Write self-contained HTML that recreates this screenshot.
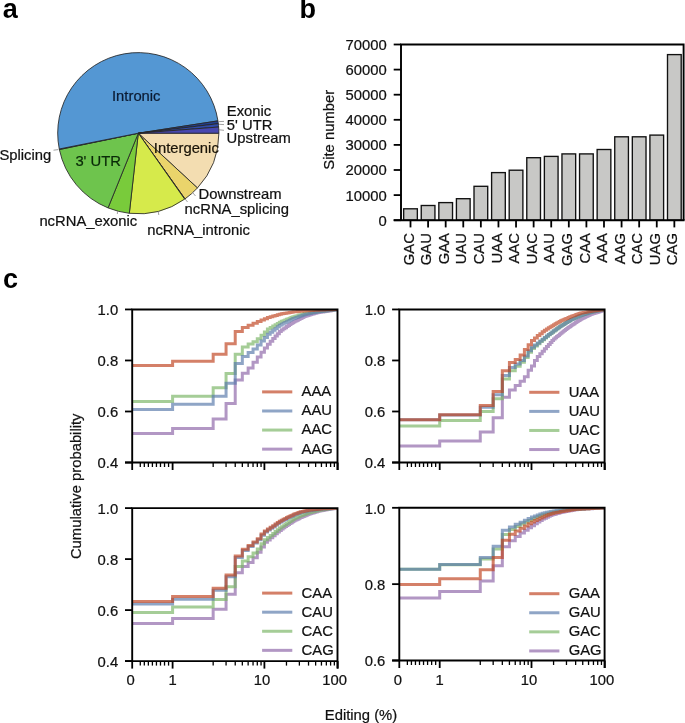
<!DOCTYPE html>
<html><head><meta charset="utf-8"><style>
html,body{margin:0;padding:0;background:#fff;}
body{width:685px;height:723px;overflow:hidden;}
svg{display:block;font-family:"Liberation Sans", sans-serif;will-change:transform;}
</style></head><body>
<svg width="685" height="723" viewBox="0 0 685 723">
<rect width="685" height="723" fill="#fff"/>
<g><path d="M138.30,133.20 L218.90,133.20 A80.6,80.6 0 0 1 197.44,187.96 Z" fill="#f3ddb1" stroke="#262626" stroke-width="0.85" stroke-linejoin="round"/><path d="M138.30,133.20 L197.44,187.96 A80.6,80.6 0 0 1 184.99,198.90 Z" fill="#ead46b" stroke="#262626" stroke-width="0.85" stroke-linejoin="round"/><path d="M138.30,133.20 L184.99,198.90 A80.6,80.6 0 0 1 184.65,199.14 Z" fill="#e2e05a" stroke="#262626" stroke-width="0.85" stroke-linejoin="round"/><path d="M138.30,133.20 L184.65,199.14 A80.6,80.6 0 0 1 129.32,213.30 Z" fill="#d6ea4b" stroke="#262626" stroke-width="0.85" stroke-linejoin="round"/><path d="M138.30,133.20 L129.32,213.30 A80.6,80.6 0 0 1 108.04,207.90 Z" fill="#79cb3b" stroke="#262626" stroke-width="0.85" stroke-linejoin="round"/><path d="M138.30,133.20 L108.04,207.90 A80.6,80.6 0 0 1 59.37,149.54 Z" fill="#6ec44d" stroke="#262626" stroke-width="0.85" stroke-linejoin="round"/><path d="M138.30,133.20 L59.37,149.54 A80.6,80.6 0 0 1 59.26,148.99 Z" fill="#5fb070" stroke="#262626" stroke-width="0.85" stroke-linejoin="round"/><path d="M138.30,133.20 L59.26,148.99 A80.6,80.6 0 1 1 217.95,120.87 Z" fill="#5497d3" stroke="#262626" stroke-width="0.85" stroke-linejoin="round"/><path d="M138.30,133.20 L217.95,120.87 A80.6,80.6 0 0 1 218.33,123.66 Z" fill="#233f8f" stroke="#262626" stroke-width="0.85" stroke-linejoin="round"/><path d="M138.30,133.20 L218.33,123.66 A80.6,80.6 0 0 1 218.66,127.02 Z" fill="#2f4aa8" stroke="#262626" stroke-width="0.85" stroke-linejoin="round"/><path d="M138.30,133.20 L218.66,127.02 A80.6,80.6 0 0 1 218.90,133.20 Z" fill="#4848b0" stroke="#262626" stroke-width="0.85" stroke-linejoin="round"/></g>
<line x1="58.2" y1="149.6" x2="53.5" y2="150.2" stroke="#8a8a8a" stroke-width="0.8"/>
<line x1="219.0" y1="121.6" x2="224.0" y2="121.4" stroke="#8a8a8a" stroke-width="0.8"/>
<line x1="219.0" y1="124.3" x2="224.0" y2="124.6" stroke="#8a8a8a" stroke-width="0.8"/>
<line x1="219.0" y1="129.8" x2="224.0" y2="130.3" stroke="#8a8a8a" stroke-width="0.8"/>
<line x1="192.0" y1="191.8" x2="195.5" y2="196.0" stroke="#8a8a8a" stroke-width="0.8"/>
<line x1="185.0" y1="198.8" x2="187.5" y2="202.0" stroke="#8a8a8a" stroke-width="0.8"/>
<line x1="117.6" y1="211.0" x2="117.3" y2="214.0" stroke="#8a8a8a" stroke-width="0.8"/>
<line x1="158.3" y1="211.8" x2="158.8" y2="215.0" stroke="#8a8a8a" stroke-width="0.8"/>
<text x="112.0" y="100.8" font-size="14.8" text-anchor="start" font-weight="normal" fill="#0b1b33" stroke="#0b1b33" stroke-width="0.22" >Intronic</text>
<text x="75.4" y="166.3" font-size="14.8" text-anchor="start" font-weight="normal" fill="#0a2a08" stroke="#0a2a08" stroke-width="0.22" >3' UTR</text>
<text x="153.8" y="152.9" font-size="14.8" text-anchor="start" font-weight="normal" fill="#1a1408" stroke="#1a1408" stroke-width="0.22" >Intergenic</text>
<text x="226.8" y="115.5" font-size="14.8" text-anchor="start" font-weight="normal" fill="#111" stroke="#111" stroke-width="0.22" >Exonic</text>
<text x="226.8" y="129.6" font-size="14.8" text-anchor="start" font-weight="normal" fill="#111" stroke="#111" stroke-width="0.22" >5' UTR</text>
<text x="226.6" y="142.8" font-size="14.8" text-anchor="start" font-weight="normal" fill="#111" stroke="#111" stroke-width="0.22" >Upstream</text>
<text x="-0.6" y="160.3" font-size="14.8" text-anchor="start" font-weight="normal" fill="#111" stroke="#111" stroke-width="0.22" >Splicing</text>
<text x="198.6" y="199.3" font-size="14.8" text-anchor="start" font-weight="normal" fill="#111" stroke="#111" stroke-width="0.22" >Downstream</text>
<text x="184.6" y="214.2" font-size="14.8" text-anchor="start" font-weight="normal" fill="#111" stroke="#111" stroke-width="0.22" >ncRNA_splicing</text>
<text x="39.4" y="225.5" font-size="14.8" text-anchor="start" font-weight="normal" fill="#111" stroke="#111" stroke-width="0.22" >ncRNA_exonic</text>
<text x="147.2" y="234.5" font-size="14.8" text-anchor="start" font-weight="normal" fill="#111" stroke="#111" stroke-width="0.22" >ncRNA_intronic</text>
<text x="2.8" y="18.4" font-size="27" text-anchor="start" font-weight="bold" fill="#000" >a</text>
<text x="299.4" y="18.4" font-size="27" text-anchor="start" font-weight="bold" fill="#000" >b</text>
<text x="3.0" y="288.2" font-size="27" text-anchor="start" font-weight="bold" fill="#000" >c</text>
<rect x="403.65" y="208.80" width="13.70" height="11.40" fill="#c8c8c6" stroke="#111" stroke-width="1.35"/>
<line x1="410.50" y1="220.2" x2="410.50" y2="227.39999999999998" stroke="#000" stroke-width="1.8"/>
<text x="0" y="0" font-size="14.8" text-anchor="end" font-weight="normal" fill="#111" stroke="#111" stroke-width="0.22" transform="translate(413.60,233.1) rotate(-90)">GAC</text>
<rect x="421.24" y="205.50" width="13.70" height="14.70" fill="#c8c8c6" stroke="#111" stroke-width="1.35"/>
<line x1="428.09" y1="220.2" x2="428.09" y2="227.39999999999998" stroke="#000" stroke-width="1.8"/>
<text x="0" y="0" font-size="14.8" text-anchor="end" font-weight="normal" fill="#111" stroke="#111" stroke-width="0.22" transform="translate(431.19,233.1) rotate(-90)">GAU</text>
<rect x="438.83" y="202.60" width="13.70" height="17.60" fill="#c8c8c6" stroke="#111" stroke-width="1.35"/>
<line x1="445.68" y1="220.2" x2="445.68" y2="227.39999999999998" stroke="#000" stroke-width="1.8"/>
<text x="0" y="0" font-size="14.8" text-anchor="end" font-weight="normal" fill="#111" stroke="#111" stroke-width="0.22" transform="translate(448.78,233.1) rotate(-90)">GAA</text>
<rect x="456.42" y="198.70" width="13.70" height="21.50" fill="#c8c8c6" stroke="#111" stroke-width="1.35"/>
<line x1="463.27" y1="220.2" x2="463.27" y2="227.39999999999998" stroke="#000" stroke-width="1.8"/>
<text x="0" y="0" font-size="14.8" text-anchor="end" font-weight="normal" fill="#111" stroke="#111" stroke-width="0.22" transform="translate(466.37,233.1) rotate(-90)">UAU</text>
<rect x="474.01" y="186.30" width="13.70" height="33.90" fill="#c8c8c6" stroke="#111" stroke-width="1.35"/>
<line x1="480.86" y1="220.2" x2="480.86" y2="227.39999999999998" stroke="#000" stroke-width="1.8"/>
<text x="0" y="0" font-size="14.8" text-anchor="end" font-weight="normal" fill="#111" stroke="#111" stroke-width="0.22" transform="translate(483.96,233.1) rotate(-90)">CAU</text>
<rect x="491.60" y="172.60" width="13.70" height="47.60" fill="#c8c8c6" stroke="#111" stroke-width="1.35"/>
<line x1="498.45" y1="220.2" x2="498.45" y2="227.39999999999998" stroke="#000" stroke-width="1.8"/>
<text x="0" y="0" font-size="14.8" text-anchor="end" font-weight="normal" fill="#111" stroke="#111" stroke-width="0.22" transform="translate(501.55,233.1) rotate(-90)">UAA</text>
<rect x="509.19" y="170.20" width="13.70" height="50.00" fill="#c8c8c6" stroke="#111" stroke-width="1.35"/>
<line x1="516.04" y1="220.2" x2="516.04" y2="227.39999999999998" stroke="#000" stroke-width="1.8"/>
<text x="0" y="0" font-size="14.8" text-anchor="end" font-weight="normal" fill="#111" stroke="#111" stroke-width="0.22" transform="translate(519.14,233.1) rotate(-90)">AAC</text>
<rect x="526.78" y="157.70" width="13.70" height="62.50" fill="#c8c8c6" stroke="#111" stroke-width="1.35"/>
<line x1="533.63" y1="220.2" x2="533.63" y2="227.39999999999998" stroke="#000" stroke-width="1.8"/>
<text x="0" y="0" font-size="14.8" text-anchor="end" font-weight="normal" fill="#111" stroke="#111" stroke-width="0.22" transform="translate(536.73,233.1) rotate(-90)">UAC</text>
<rect x="544.37" y="156.40" width="13.70" height="63.80" fill="#c8c8c6" stroke="#111" stroke-width="1.35"/>
<line x1="551.22" y1="220.2" x2="551.22" y2="227.39999999999998" stroke="#000" stroke-width="1.8"/>
<text x="0" y="0" font-size="14.8" text-anchor="end" font-weight="normal" fill="#111" stroke="#111" stroke-width="0.22" transform="translate(554.32,233.1) rotate(-90)">AAU</text>
<rect x="561.96" y="153.90" width="13.70" height="66.30" fill="#c8c8c6" stroke="#111" stroke-width="1.35"/>
<line x1="568.81" y1="220.2" x2="568.81" y2="227.39999999999998" stroke="#000" stroke-width="1.8"/>
<text x="0" y="0" font-size="14.8" text-anchor="end" font-weight="normal" fill="#111" stroke="#111" stroke-width="0.22" transform="translate(571.91,233.1) rotate(-90)">GAG</text>
<rect x="579.55" y="153.90" width="13.70" height="66.30" fill="#c8c8c6" stroke="#111" stroke-width="1.35"/>
<line x1="586.40" y1="220.2" x2="586.40" y2="227.39999999999998" stroke="#000" stroke-width="1.8"/>
<text x="0" y="0" font-size="14.8" text-anchor="end" font-weight="normal" fill="#111" stroke="#111" stroke-width="0.22" transform="translate(589.50,233.1) rotate(-90)">CAA</text>
<rect x="597.14" y="149.50" width="13.70" height="70.70" fill="#c8c8c6" stroke="#111" stroke-width="1.35"/>
<line x1="603.99" y1="220.2" x2="603.99" y2="227.39999999999998" stroke="#000" stroke-width="1.8"/>
<text x="0" y="0" font-size="14.8" text-anchor="end" font-weight="normal" fill="#111" stroke="#111" stroke-width="0.22" transform="translate(607.09,233.1) rotate(-90)">AAA</text>
<rect x="614.73" y="136.80" width="13.70" height="83.40" fill="#c8c8c6" stroke="#111" stroke-width="1.35"/>
<line x1="621.58" y1="220.2" x2="621.58" y2="227.39999999999998" stroke="#000" stroke-width="1.8"/>
<text x="0" y="0" font-size="14.8" text-anchor="end" font-weight="normal" fill="#111" stroke="#111" stroke-width="0.22" transform="translate(624.68,233.1) rotate(-90)">AAG</text>
<rect x="632.32" y="136.80" width="13.70" height="83.40" fill="#c8c8c6" stroke="#111" stroke-width="1.35"/>
<line x1="639.17" y1="220.2" x2="639.17" y2="227.39999999999998" stroke="#000" stroke-width="1.8"/>
<text x="0" y="0" font-size="14.8" text-anchor="end" font-weight="normal" fill="#111" stroke="#111" stroke-width="0.22" transform="translate(642.27,233.1) rotate(-90)">CAC</text>
<rect x="649.91" y="135.10" width="13.70" height="85.10" fill="#c8c8c6" stroke="#111" stroke-width="1.35"/>
<line x1="656.76" y1="220.2" x2="656.76" y2="227.39999999999998" stroke="#000" stroke-width="1.8"/>
<text x="0" y="0" font-size="14.8" text-anchor="end" font-weight="normal" fill="#111" stroke="#111" stroke-width="0.22" transform="translate(659.86,233.1) rotate(-90)">UAG</text>
<rect x="667.50" y="54.60" width="13.70" height="165.60" fill="#c8c8c6" stroke="#111" stroke-width="1.35"/>
<line x1="674.35" y1="220.2" x2="674.35" y2="227.39999999999998" stroke="#000" stroke-width="1.8"/>
<text x="0" y="0" font-size="14.8" text-anchor="end" font-weight="normal" fill="#111" stroke="#111" stroke-width="0.22" transform="translate(677.45,233.1) rotate(-90)">CAG</text>
<path d="M401.0,220.2 L401.0,44.5 L683.6,44.5 L683.6,220.2" fill="none" stroke="#000" stroke-width="1.9"/>
<line x1="393.7" y1="220.2" x2="684.6" y2="220.2" stroke="#000" stroke-width="1.9"/>
<line x1="393.7" y1="220.20" x2="401.0" y2="220.20" stroke="#000" stroke-width="1.8"/>
<text x="386.7" y="225.6" font-size="14.8" text-anchor="end" font-weight="normal" fill="#111" stroke="#111" stroke-width="0.22" >0</text>
<line x1="393.7" y1="195.10" x2="401.0" y2="195.10" stroke="#000" stroke-width="1.8"/>
<text x="386.7" y="200.5" font-size="14.8" text-anchor="end" font-weight="normal" fill="#111" stroke="#111" stroke-width="0.22" >10000</text>
<line x1="393.7" y1="170.00" x2="401.0" y2="170.00" stroke="#000" stroke-width="1.8"/>
<text x="386.7" y="175.4" font-size="14.8" text-anchor="end" font-weight="normal" fill="#111" stroke="#111" stroke-width="0.22" >20000</text>
<line x1="393.7" y1="144.90" x2="401.0" y2="144.90" stroke="#000" stroke-width="1.8"/>
<text x="386.7" y="150.29999999999998" font-size="14.8" text-anchor="end" font-weight="normal" fill="#111" stroke="#111" stroke-width="0.22" >30000</text>
<line x1="393.7" y1="119.80" x2="401.0" y2="119.80" stroke="#000" stroke-width="1.8"/>
<text x="386.7" y="125.2" font-size="14.8" text-anchor="end" font-weight="normal" fill="#111" stroke="#111" stroke-width="0.22" >40000</text>
<line x1="393.7" y1="94.70" x2="401.0" y2="94.70" stroke="#000" stroke-width="1.8"/>
<text x="386.7" y="100.10000000000001" font-size="14.8" text-anchor="end" font-weight="normal" fill="#111" stroke="#111" stroke-width="0.22" >50000</text>
<line x1="393.7" y1="69.60" x2="401.0" y2="69.60" stroke="#000" stroke-width="1.8"/>
<text x="386.7" y="75.0" font-size="14.8" text-anchor="end" font-weight="normal" fill="#111" stroke="#111" stroke-width="0.22" >60000</text>
<line x1="393.7" y1="44.50" x2="401.0" y2="44.50" stroke="#000" stroke-width="1.8"/>
<text x="386.7" y="49.9" font-size="14.8" text-anchor="end" font-weight="normal" fill="#111" stroke="#111" stroke-width="0.22" >70000</text>
<text x="0" y="0" font-size="14.8" text-anchor="middle" font-weight="normal" fill="#111" stroke="#111" stroke-width="0.22" transform="translate(334.3,129.8) rotate(-90)">Site number</text>
<clipPath id="c132309"><rect x="132.2" y="309.45" width="205.3" height="153.06"/></clipPath>
<g clip-path="url(#c132309)">
<path d="M132.20,433.43 H172.60 V428.58 H213.17 V418.89 H226.07 V403.58 H235.23 V380.11 H242.33 V373.22 H248.14 V368.12 H253.05 V362.32 H257.30 V357.09 H261.05 V352.33 H264.40 V348.04 H267.43 V344.14 H270.20 V341.24 H272.75 V338.55 H275.11 V336.06 H277.31 V333.73 H279.36 V331.55 H281.29 V330.09 H283.11 V328.86 H284.83 V327.69 H286.47 V326.58 H288.02 V325.52 H289.50 V324.52 H290.91 V323.55 H292.27 V322.65 H293.57 V321.98 H294.82 V321.34 H296.02 V320.73 H297.18 V320.13 H298.29 V319.56 H299.37 V319.00 H300.42 V318.47 H301.43 V317.95 H302.41 V317.44 H303.36 V316.95 H304.28 V316.48 H305.18 V316.16 H306.05 V315.90 H306.90 V315.66 H307.73 V315.42 H308.53 V315.19 H309.32 V314.96 H310.08 V314.74 H310.83 V314.52 H311.57 V314.31 H312.28 V314.10 H312.98 V313.90 H313.66 V313.70 H314.33 V313.51 H314.99 V313.32 H315.63 V313.13 H316.26 V312.95 H316.88 V312.77 H317.49 V312.68 H318.08 V312.59 H318.67 V312.51 H319.24 V312.43 H319.81 V312.35 H320.36 V312.27 H320.90 V312.19 H321.44 V312.12 H321.96 V312.04 H322.48 V311.97 H322.99 V311.89 H323.49 V311.82 H323.99 V311.75 H324.47 V311.68 H324.95 V311.61 H325.42 V311.55 H325.89 V311.48 H326.35 V311.41 H326.80 V311.35 H327.24 V311.29 H327.68 V311.22 H328.11 V311.16 H328.54 V311.10 H328.96 V311.04 H329.38 V310.98 H329.79 V310.91 H330.20 V310.83 H330.60 V310.76 H330.99 V310.68 H331.38 V310.61 H331.77 V310.54 H332.15 V310.47 H332.53 V310.40 H332.90 V310.33 H333.27 V310.27 H333.63 V310.20 H333.99 V310.13 H334.35 V310.07 H334.70 V310.00 H335.05 V309.94 H335.39 V309.88 H335.73 V309.81 H336.07 V309.75 H336.40 V309.69 H336.73 V309.63 H337.06 V309.57 H337.38 V309.51 H337.70 V309.45" fill="none" stroke="#8e65a8" stroke-opacity="0.68" stroke-width="3" stroke-linejoin="miter"/>
<path d="M132.20,401.54 H172.60 V396.18 H213.17 V387.77 H226.07 V373.48 H235.23 V354.35 H242.33 V346.95 H248.14 V343.89 H253.05 V341.71 H257.30 V338.70 H261.05 V335.17 H264.40 V331.98 H267.43 V329.09 H270.20 V327.50 H272.75 V326.02 H275.11 V324.65 H277.31 V323.38 H279.36 V322.18 H281.29 V321.35 H283.11 V320.64 H284.83 V319.97 H286.47 V319.33 H288.02 V318.72 H289.50 V318.14 H290.91 V317.58 H292.27 V317.06 H293.57 V316.69 H294.82 V316.33 H296.02 V315.99 H297.18 V315.66 H298.29 V315.33 H299.37 V315.02 H300.42 V314.72 H301.43 V314.43 H302.41 V314.15 H303.36 V313.88 H304.28 V313.61 H305.18 V313.44 H306.05 V313.32 H306.90 V313.19 H307.73 V313.07 H308.53 V312.96 H309.32 V312.84 H310.08 V312.73 H310.83 V312.62 H311.57 V312.52 H312.28 V312.41 H312.98 V312.31 H313.66 V312.21 H314.33 V312.12 H314.99 V312.02 H315.63 V311.93 H316.26 V311.84 H316.88 V311.75 H317.49 V311.68 H318.08 V311.61 H318.67 V311.55 H319.24 V311.48 H319.81 V311.42 H320.36 V311.36 H320.90 V311.30 H321.44 V311.24 H321.96 V311.18 H322.48 V311.12 H322.99 V311.06 H323.49 V311.01 H323.99 V310.95 H324.47 V310.90 H324.95 V310.85 H325.42 V310.79 H325.89 V310.74 H326.35 V310.69 H326.80 V310.64 H327.24 V310.59 H327.68 V310.54 H328.11 V310.49 H328.54 V310.44 H328.96 V310.40 H329.38 V310.35 H329.79 V310.31 H330.20 V310.26 H330.60 V310.22 H330.99 V310.17 H331.38 V310.13 H331.77 V310.09 H332.15 V310.05 H332.53 V310.01 H332.90 V309.97 H333.27 V309.93 H333.63 V309.89 H333.99 V309.85 H334.35 V309.81 H334.70 V309.77 H335.05 V309.74 H335.39 V309.70 H335.73 V309.66 H336.07 V309.63 H336.40 V309.59 H336.73 V309.55 H337.06 V309.52 H337.38 V309.48 H337.70 V309.45" fill="none" stroke="#7bb665" stroke-opacity="0.68" stroke-width="3" stroke-linejoin="miter"/>
<path d="M132.20,409.45 H172.60 V404.35 H213.17 V396.18 H226.07 V383.17 H235.23 V363.53 H242.33 V356.39 H248.14 V352.56 H253.05 V348.94 H257.30 V345.06 H261.05 V341.06 H264.40 V337.46 H267.43 V334.19 H270.20 V332.14 H272.75 V330.25 H275.11 V328.49 H277.31 V326.85 H279.36 V325.31 H281.29 V324.26 H283.11 V323.36 H284.83 V322.51 H286.47 V321.70 H288.02 V320.93 H289.50 V320.20 H290.91 V319.50 H292.27 V318.84 H293.57 V318.39 H294.82 V317.95 H296.02 V317.54 H297.18 V317.13 H298.29 V316.74 H299.37 V316.36 H300.42 V316.00 H301.43 V315.65 H302.41 V315.30 H303.36 V314.97 H304.28 V314.65 H305.18 V314.42 H306.05 V314.24 H306.90 V314.07 H307.73 V313.90 H308.53 V313.73 H309.32 V313.57 H310.08 V313.41 H310.83 V313.25 H311.57 V313.10 H312.28 V312.95 H312.98 V312.81 H313.66 V312.67 H314.33 V312.53 H314.99 V312.39 H315.63 V312.26 H316.26 V312.13 H316.88 V312.00 H317.49 V311.92 H318.08 V311.84 H318.67 V311.77 H319.24 V311.69 H319.81 V311.62 H320.36 V311.55 H320.90 V311.48 H321.44 V311.41 H321.96 V311.34 H322.48 V311.27 H322.99 V311.21 H323.49 V311.14 H323.99 V311.08 H324.47 V311.01 H324.95 V310.95 H325.42 V310.89 H325.89 V310.83 H326.35 V310.77 H326.80 V310.71 H327.24 V310.65 H327.68 V310.60 H328.11 V310.54 H328.54 V310.48 H328.96 V310.43 H329.38 V310.37 H329.79 V310.32 H330.20 V310.27 H330.60 V310.22 H330.99 V310.17 H331.38 V310.13 H331.77 V310.09 H332.15 V310.05 H332.53 V310.01 H332.90 V309.97 H333.27 V309.93 H333.63 V309.89 H333.99 V309.85 H334.35 V309.81 H334.70 V309.77 H335.05 V309.74 H335.39 V309.70 H335.73 V309.66 H336.07 V309.63 H336.40 V309.59 H336.73 V309.55 H337.06 V309.52 H337.38 V309.48 H337.70 V309.45" fill="none" stroke="#5a7bab" stroke-opacity="0.68" stroke-width="3" stroke-linejoin="miter"/>
<path d="M132.20,365.44 H172.60 V361.24 H213.17 V354.35 H226.07 V343.63 H235.23 V331.39 H242.33 V327.56 H248.14 V325.27 H253.05 V323.23 H257.30 V321.44 H261.05 V320.03 H264.40 V318.76 H267.43 V317.61 H270.20 V316.81 H272.75 V316.08 H275.11 V315.39 H277.31 V314.76 H279.36 V314.16 H281.29 V313.79 H283.11 V313.49 H284.83 V313.21 H286.47 V312.94 H288.02 V312.68 H289.50 V312.44 H290.91 V312.20 H292.27 V311.99 H293.57 V311.87 H294.82 V311.75 H296.02 V311.64 H297.18 V311.54 H298.29 V311.43 H299.37 V311.33 H300.42 V311.24 H301.43 V311.14 H302.41 V311.05 H303.36 V310.96 H304.28 V310.88 H305.18 V310.82 H306.05 V310.77 H306.90 V310.73 H307.73 V310.69 H308.53 V310.64 H309.32 V310.60 H310.08 V310.56 H310.83 V310.52 H311.57 V310.48 H312.28 V310.45 H312.98 V310.41 H313.66 V310.37 H314.33 V310.34 H314.99 V310.30 H315.63 V310.27 H316.26 V310.23 H316.88 V310.20 H317.49 V310.17 H318.08 V310.14 H318.67 V310.11 H319.24 V310.08 H319.81 V310.05 H320.36 V310.02 H320.90 V309.99 H321.44 V309.96 H321.96 V309.94 H322.48 V309.93 H322.99 V309.91 H323.49 V309.90 H323.99 V309.88 H324.47 V309.87 H324.95 V309.85 H325.42 V309.84 H325.89 V309.82 H326.35 V309.81 H326.80 V309.79 H327.24 V309.78 H327.68 V309.76 H328.11 V309.75 H328.54 V309.74 H328.96 V309.72 H329.38 V309.71 H329.79 V309.70 H330.20 V309.69 H330.60 V309.67 H330.99 V309.66 H331.38 V309.65 H331.77 V309.64 H332.15 V309.62 H332.53 V309.61 H332.90 V309.60 H333.27 V309.59 H333.63 V309.58 H333.99 V309.57 H334.35 V309.56 H334.70 V309.54 H335.05 V309.53 H335.39 V309.52 H335.73 V309.51 H336.07 V309.50 H336.40 V309.49 H336.73 V309.48 H337.06 V309.47 H337.38 V309.46 H337.70 V309.45" fill="none" stroke="#c04421" stroke-opacity="0.68" stroke-width="3" stroke-linejoin="miter"/>
</g>
<path d="M132.2,462.51 L132.2,309.45 L337.5,309.45 L337.5,470.01" fill="none" stroke="#000" stroke-width="1.9"/>
<line x1="124.99999999999999" y1="462.51" x2="337.5" y2="462.51" stroke="#000" stroke-width="1.9"/>
<line x1="124.99999999999999" y1="309.45" x2="132.2" y2="309.45" stroke="#000" stroke-width="1.8"/>
<text x="118.20" y="315.35" font-size="14.8" text-anchor="end" font-weight="normal" fill="#111" stroke="#111" stroke-width="0.22" >1.0</text>
<line x1="124.99999999999999" y1="360.47" x2="132.2" y2="360.47" stroke="#000" stroke-width="1.8"/>
<text x="118.20" y="366.37" font-size="14.8" text-anchor="end" font-weight="normal" fill="#111" stroke="#111" stroke-width="0.22" >0.8</text>
<line x1="124.99999999999999" y1="411.49" x2="132.2" y2="411.49" stroke="#000" stroke-width="1.8"/>
<text x="118.20" y="417.39" font-size="14.8" text-anchor="end" font-weight="normal" fill="#111" stroke="#111" stroke-width="0.22" >0.6</text>
<line x1="124.99999999999999" y1="462.51" x2="132.2" y2="462.51" stroke="#000" stroke-width="1.8"/>
<text x="118.20" y="468.41" font-size="14.8" text-anchor="end" font-weight="normal" fill="#111" stroke="#111" stroke-width="0.22" >0.4</text>
<line x1="132.2" y1="462.51" x2="132.2" y2="470.01" stroke="#000" stroke-width="1.8"/>
<line x1="140.28" y1="462.51" x2="140.28" y2="467.01" stroke="#000" stroke-width="1.3"/>
<line x1="144.32" y1="462.51" x2="144.32" y2="467.01" stroke="#000" stroke-width="1.3"/>
<line x1="148.36" y1="462.51" x2="148.36" y2="467.01" stroke="#000" stroke-width="1.3"/>
<line x1="152.40" y1="462.51" x2="152.40" y2="467.01" stroke="#000" stroke-width="1.3"/>
<line x1="156.44" y1="462.51" x2="156.44" y2="467.01" stroke="#000" stroke-width="1.3"/>
<line x1="160.48" y1="462.51" x2="160.48" y2="467.01" stroke="#000" stroke-width="1.3"/>
<line x1="164.52" y1="462.51" x2="164.52" y2="467.01" stroke="#000" stroke-width="1.3"/>
<line x1="168.56" y1="462.51" x2="168.56" y2="467.01" stroke="#000" stroke-width="1.3"/>
<line x1="172.60" y1="462.51" x2="172.60" y2="470.01" stroke="#000" stroke-width="1.8"/>
<line x1="264.40" y1="462.51" x2="264.40" y2="470.01" stroke="#000" stroke-width="1.8"/>
<line x1="337.70" y1="462.51" x2="337.70" y2="470.01" stroke="#000" stroke-width="1.8"/>
<line x1="213.17" y1="462.51" x2="213.17" y2="467.01" stroke="#000" stroke-width="1.3"/>
<line x1="226.07" y1="462.51" x2="226.07" y2="467.01" stroke="#000" stroke-width="1.3"/>
<line x1="235.23" y1="462.51" x2="235.23" y2="467.01" stroke="#000" stroke-width="1.3"/>
<line x1="242.33" y1="462.51" x2="242.33" y2="467.01" stroke="#000" stroke-width="1.3"/>
<line x1="248.14" y1="462.51" x2="248.14" y2="467.01" stroke="#000" stroke-width="1.3"/>
<line x1="253.05" y1="462.51" x2="253.05" y2="467.01" stroke="#000" stroke-width="1.3"/>
<line x1="257.30" y1="462.51" x2="257.30" y2="467.01" stroke="#000" stroke-width="1.3"/>
<line x1="261.05" y1="462.51" x2="261.05" y2="467.01" stroke="#000" stroke-width="1.3"/>
<line x1="286.47" y1="462.51" x2="286.47" y2="467.01" stroke="#000" stroke-width="1.3"/>
<line x1="299.37" y1="462.51" x2="299.37" y2="467.01" stroke="#000" stroke-width="1.3"/>
<line x1="308.53" y1="462.51" x2="308.53" y2="467.01" stroke="#000" stroke-width="1.3"/>
<line x1="315.63" y1="462.51" x2="315.63" y2="467.01" stroke="#000" stroke-width="1.3"/>
<line x1="321.44" y1="462.51" x2="321.44" y2="467.01" stroke="#000" stroke-width="1.3"/>
<line x1="326.35" y1="462.51" x2="326.35" y2="467.01" stroke="#000" stroke-width="1.3"/>
<line x1="330.60" y1="462.51" x2="330.60" y2="467.01" stroke="#000" stroke-width="1.3"/>
<line x1="334.35" y1="462.51" x2="334.35" y2="467.01" stroke="#000" stroke-width="1.3"/>
<line x1="262.10" y1="391.90" x2="292.30" y2="391.90" stroke="#c04421" stroke-opacity="0.68" stroke-width="3"/>
<text x="301.60" y="396.30" font-size="14.8" text-anchor="start" font-weight="normal" fill="#111" stroke="#111" stroke-width="0.22" >AAA</text>
<line x1="262.10" y1="410.98" x2="292.30" y2="410.98" stroke="#5a7bab" stroke-opacity="0.68" stroke-width="3"/>
<text x="301.60" y="415.38" font-size="14.8" text-anchor="start" font-weight="normal" fill="#111" stroke="#111" stroke-width="0.22" >AAU</text>
<line x1="262.10" y1="430.06" x2="292.30" y2="430.06" stroke="#7bb665" stroke-opacity="0.68" stroke-width="3"/>
<text x="301.60" y="434.46" font-size="14.8" text-anchor="start" font-weight="normal" fill="#111" stroke="#111" stroke-width="0.22" >AAC</text>
<line x1="262.10" y1="449.14" x2="292.30" y2="449.14" stroke="#8e65a8" stroke-opacity="0.68" stroke-width="3"/>
<text x="301.60" y="453.54" font-size="14.8" text-anchor="start" font-weight="normal" fill="#111" stroke="#111" stroke-width="0.22" >AAG</text>
<clipPath id="c399309"><rect x="399.3" y="309.45" width="205.3" height="153.06"/></clipPath>
<g clip-path="url(#c399309)">
<path d="M399.30,445.93 H439.70 V441.08 H480.27 V431.90 H493.17 V417.87 H502.33 V397.20 H509.43 V390.06 H515.24 V385.47 H520.15 V381.13 H524.40 V376.80 H528.15 V370.16 H531.50 V366.08 H534.53 V360.52 H537.30 V356.58 H539.85 V353.84 H542.21 V351.28 H544.41 V348.83 H546.46 V346.52 H548.39 V344.41 H550.21 V342.46 H551.93 V340.62 H553.57 V338.92 H555.12 V337.69 H556.60 V336.53 H558.01 V335.41 H559.37 V334.34 H560.67 V333.30 H561.92 V332.30 H563.12 V331.33 H564.28 V330.40 H565.39 V329.55 H566.47 V328.79 H567.52 V328.05 H568.53 V327.34 H569.51 V326.65 H570.46 V325.97 H571.38 V325.36 H572.28 V324.77 H573.15 V324.20 H574.00 V323.65 H574.83 V323.11 H575.63 V322.59 H576.42 V322.07 H577.18 V321.57 H577.93 V321.08 H578.67 V320.60 H579.38 V320.14 H580.08 V319.68 H580.76 V319.23 H581.43 V318.89 H582.09 V318.58 H582.73 V318.27 H583.36 V317.97 H583.98 V317.68 H584.59 V317.39 H585.18 V317.11 H585.77 V316.83 H586.34 V316.56 H586.91 V316.29 H587.46 V316.02 H588.00 V315.77 H588.54 V315.51 H589.06 V315.26 H589.58 V315.01 H590.09 V314.77 H590.59 V314.53 H591.09 V314.30 H591.57 V314.15 H592.05 V314.00 H592.52 V313.86 H592.99 V313.72 H593.45 V313.58 H593.90 V313.44 H594.34 V313.30 H594.78 V313.17 H595.21 V313.03 H595.64 V312.90 H596.06 V312.77 H596.48 V312.65 H596.89 V312.52 H597.30 V312.40 H597.70 V312.27 H598.09 V312.15 H598.48 V312.03 H598.87 V311.92 H599.25 V311.80 H599.63 V311.68 H600.00 V311.57 H600.37 V311.46 H600.73 V311.35 H601.09 V311.24 H601.45 V311.06 H601.80 V310.90 H602.15 V310.73 H602.49 V310.56 H602.83 V310.40 H603.17 V310.24 H603.50 V310.08 H603.83 V309.92 H604.16 V309.76 H604.48 V309.60 H604.80 V309.45" fill="none" stroke="#8e65a8" stroke-opacity="0.68" stroke-width="3" stroke-linejoin="miter"/>
<path d="M399.30,426.03 H439.70 V420.42 H480.27 V411.49 H493.17 V398.74 H502.33 V379.09 H509.43 V370.67 H515.24 V366.34 H520.15 V362.26 H524.40 V357.41 H528.15 V352.31 H531.50 V348.48 H534.53 V345.97 H537.30 V343.67 H539.85 V341.54 H542.21 V339.69 H544.41 V337.98 H546.46 V336.37 H548.39 V334.86 H550.21 V333.43 H551.93 V332.19 H553.57 V331.00 H555.12 V329.88 H556.60 V328.80 H558.01 V327.78 H559.37 V326.79 H560.67 V325.88 H561.92 V325.14 H563.12 V324.43 H564.28 V323.74 H565.39 V323.08 H566.47 V322.44 H567.52 V321.82 H568.53 V321.22 H569.51 V320.64 H570.46 V320.08 H571.38 V319.62 H572.28 V319.21 H573.15 V318.82 H574.00 V318.44 H574.83 V318.06 H575.63 V317.70 H576.42 V317.34 H577.18 V317.00 H577.93 V316.66 H578.67 V316.33 H579.38 V316.00 H580.08 V315.69 H580.76 V315.38 H581.43 V315.16 H582.09 V314.96 H582.73 V314.77 H583.36 V314.58 H583.98 V314.39 H584.59 V314.21 H585.18 V314.03 H585.77 V313.86 H586.34 V313.68 H586.91 V313.51 H587.46 V313.35 H588.00 V313.18 H588.54 V313.02 H589.06 V312.86 H589.58 V312.71 H590.09 V312.56 H590.59 V312.40 H591.09 V312.26 H591.57 V312.16 H592.05 V312.06 H592.52 V311.96 H592.99 V311.87 H593.45 V311.77 H593.90 V311.68 H594.34 V311.59 H594.78 V311.50 H595.21 V311.41 H595.64 V311.32 H596.06 V311.24 H596.48 V311.15 H596.89 V311.07 H597.30 V310.99 H597.70 V310.90 H598.09 V310.82 H598.48 V310.74 H598.87 V310.66 H599.25 V310.59 H599.63 V310.51 H600.00 V310.43 H600.37 V310.36 H600.73 V310.28 H601.09 V310.21 H601.45 V310.14 H601.80 V310.06 H602.15 V309.99 H602.49 V309.92 H602.83 V309.85 H603.17 V309.78 H603.50 V309.72 H603.83 V309.65 H604.16 V309.58 H604.48 V309.52 H604.80 V309.45" fill="none" stroke="#7bb665" stroke-opacity="0.68" stroke-width="3" stroke-linejoin="miter"/>
<path d="M399.30,419.86 H439.70 V415.01 H480.27 V407.15 H493.17 V394.65 H502.33 V375.52 H509.43 V367.61 H515.24 V364.04 H520.15 V360.47 H524.40 V355.88 H528.15 V350.78 H531.50 V347.20 H534.53 V344.96 H537.30 V342.91 H539.85 V341.01 H542.21 V339.23 H544.41 V337.57 H546.46 V336.02 H548.39 V334.56 H550.21 V333.17 H551.93 V331.97 H553.57 V330.83 H555.12 V329.75 H556.60 V328.71 H558.01 V327.72 H559.37 V326.76 H560.67 V325.88 H561.92 V325.14 H563.12 V324.43 H564.28 V323.74 H565.39 V323.08 H566.47 V322.44 H567.52 V321.82 H568.53 V321.22 H569.51 V320.64 H570.46 V320.08 H571.38 V319.62 H572.28 V319.21 H573.15 V318.82 H574.00 V318.44 H574.83 V318.06 H575.63 V317.70 H576.42 V317.34 H577.18 V317.00 H577.93 V316.66 H578.67 V316.33 H579.38 V316.00 H580.08 V315.69 H580.76 V315.38 H581.43 V315.16 H582.09 V314.96 H582.73 V314.77 H583.36 V314.58 H583.98 V314.39 H584.59 V314.21 H585.18 V314.03 H585.77 V313.86 H586.34 V313.68 H586.91 V313.51 H587.46 V313.35 H588.00 V313.18 H588.54 V313.02 H589.06 V312.86 H589.58 V312.71 H590.09 V312.56 H590.59 V312.40 H591.09 V312.26 H591.57 V312.16 H592.05 V312.06 H592.52 V311.96 H592.99 V311.87 H593.45 V311.77 H593.90 V311.68 H594.34 V311.59 H594.78 V311.50 H595.21 V311.41 H595.64 V311.32 H596.06 V311.24 H596.48 V311.15 H596.89 V311.07 H597.30 V310.99 H597.70 V310.90 H598.09 V310.82 H598.48 V310.74 H598.87 V310.66 H599.25 V310.59 H599.63 V310.51 H600.00 V310.43 H600.37 V310.36 H600.73 V310.28 H601.09 V310.21 H601.45 V310.14 H601.80 V310.06 H602.15 V309.99 H602.49 V309.92 H602.83 V309.85 H603.17 V309.78 H603.50 V309.72 H603.83 V309.65 H604.16 V309.58 H604.48 V309.52 H604.80 V309.45" fill="none" stroke="#5a7bab" stroke-opacity="0.68" stroke-width="3" stroke-linejoin="miter"/>
<path d="M399.30,419.65 H439.70 V414.81 H480.27 V405.62 H493.17 V391.59 H502.33 V370.67 H509.43 V362.51 H515.24 V359.45 H520.15 V355.11 H524.40 V349.50 H528.15 V344.65 H531.50 V340.57 H534.53 V337.88 H537.30 V335.59 H539.85 V333.63 H542.21 V331.85 H544.41 V330.37 H546.46 V328.99 H548.39 V327.76 H550.21 V326.67 H551.93 V325.64 H553.57 V324.67 H555.12 V323.82 H556.60 V323.01 H558.01 V322.24 H559.37 V321.50 H560.67 V320.82 H561.92 V320.30 H563.12 V319.80 H564.28 V319.31 H565.39 V318.84 H566.47 V318.39 H567.52 V317.95 H568.53 V317.52 H569.51 V317.11 H570.46 V316.71 H571.38 V316.37 H572.28 V316.05 H573.15 V315.75 H574.00 V315.45 H574.83 V315.16 H575.63 V314.87 H576.42 V314.60 H577.18 V314.33 H577.93 V314.07 H578.67 V313.81 H579.38 V313.56 H580.08 V313.31 H580.76 V313.07 H581.43 V312.93 H582.09 V312.81 H582.73 V312.70 H583.36 V312.59 H583.98 V312.48 H584.59 V312.38 H585.18 V312.27 H585.77 V312.17 H586.34 V312.07 H586.91 V311.97 H587.46 V311.87 H588.00 V311.78 H588.54 V311.68 H589.06 V311.59 H589.58 V311.50 H590.09 V311.41 H590.59 V311.32 H591.09 V311.24 H591.57 V311.17 H592.05 V311.11 H592.52 V311.05 H592.99 V310.99 H593.45 V310.93 H593.90 V310.87 H594.34 V310.81 H594.78 V310.76 H595.21 V310.70 H595.64 V310.64 H596.06 V310.59 H596.48 V310.53 H596.89 V310.48 H597.30 V310.43 H597.70 V310.38 H598.09 V310.32 H598.48 V310.27 H598.87 V310.22 H599.25 V310.17 H599.63 V310.12 H600.00 V310.08 H600.37 V310.03 H600.73 V309.98 H601.09 V309.93 H601.45 V309.89 H601.80 V309.84 H602.15 V309.80 H602.49 V309.75 H602.83 V309.71 H603.17 V309.66 H603.50 V309.62 H603.83 V309.58 H604.16 V309.53 H604.48 V309.49 H604.80 V309.45" fill="none" stroke="#c04421" stroke-opacity="0.68" stroke-width="3" stroke-linejoin="miter"/>
</g>
<path d="M399.3,462.51 L399.3,309.45 L604.6,309.45 L604.6,470.01" fill="none" stroke="#000" stroke-width="1.9"/>
<line x1="392.1" y1="462.51" x2="604.6" y2="462.51" stroke="#000" stroke-width="1.9"/>
<line x1="392.1" y1="309.45" x2="399.3" y2="309.45" stroke="#000" stroke-width="1.8"/>
<text x="385.30" y="315.35" font-size="14.8" text-anchor="end" font-weight="normal" fill="#111" stroke="#111" stroke-width="0.22" >1.0</text>
<line x1="392.1" y1="360.47" x2="399.3" y2="360.47" stroke="#000" stroke-width="1.8"/>
<text x="385.30" y="366.37" font-size="14.8" text-anchor="end" font-weight="normal" fill="#111" stroke="#111" stroke-width="0.22" >0.8</text>
<line x1="392.1" y1="411.49" x2="399.3" y2="411.49" stroke="#000" stroke-width="1.8"/>
<text x="385.30" y="417.39" font-size="14.8" text-anchor="end" font-weight="normal" fill="#111" stroke="#111" stroke-width="0.22" >0.6</text>
<line x1="392.1" y1="462.51" x2="399.3" y2="462.51" stroke="#000" stroke-width="1.8"/>
<text x="385.30" y="468.41" font-size="14.8" text-anchor="end" font-weight="normal" fill="#111" stroke="#111" stroke-width="0.22" >0.4</text>
<line x1="399.3" y1="462.51" x2="399.3" y2="470.01" stroke="#000" stroke-width="1.8"/>
<line x1="407.38" y1="462.51" x2="407.38" y2="467.01" stroke="#000" stroke-width="1.3"/>
<line x1="411.42" y1="462.51" x2="411.42" y2="467.01" stroke="#000" stroke-width="1.3"/>
<line x1="415.46" y1="462.51" x2="415.46" y2="467.01" stroke="#000" stroke-width="1.3"/>
<line x1="419.50" y1="462.51" x2="419.50" y2="467.01" stroke="#000" stroke-width="1.3"/>
<line x1="423.54" y1="462.51" x2="423.54" y2="467.01" stroke="#000" stroke-width="1.3"/>
<line x1="427.58" y1="462.51" x2="427.58" y2="467.01" stroke="#000" stroke-width="1.3"/>
<line x1="431.62" y1="462.51" x2="431.62" y2="467.01" stroke="#000" stroke-width="1.3"/>
<line x1="435.66" y1="462.51" x2="435.66" y2="467.01" stroke="#000" stroke-width="1.3"/>
<line x1="439.70" y1="462.51" x2="439.70" y2="470.01" stroke="#000" stroke-width="1.8"/>
<line x1="531.50" y1="462.51" x2="531.50" y2="470.01" stroke="#000" stroke-width="1.8"/>
<line x1="604.80" y1="462.51" x2="604.80" y2="470.01" stroke="#000" stroke-width="1.8"/>
<line x1="480.27" y1="462.51" x2="480.27" y2="467.01" stroke="#000" stroke-width="1.3"/>
<line x1="493.17" y1="462.51" x2="493.17" y2="467.01" stroke="#000" stroke-width="1.3"/>
<line x1="502.33" y1="462.51" x2="502.33" y2="467.01" stroke="#000" stroke-width="1.3"/>
<line x1="509.43" y1="462.51" x2="509.43" y2="467.01" stroke="#000" stroke-width="1.3"/>
<line x1="515.24" y1="462.51" x2="515.24" y2="467.01" stroke="#000" stroke-width="1.3"/>
<line x1="520.15" y1="462.51" x2="520.15" y2="467.01" stroke="#000" stroke-width="1.3"/>
<line x1="524.40" y1="462.51" x2="524.40" y2="467.01" stroke="#000" stroke-width="1.3"/>
<line x1="528.15" y1="462.51" x2="528.15" y2="467.01" stroke="#000" stroke-width="1.3"/>
<line x1="553.57" y1="462.51" x2="553.57" y2="467.01" stroke="#000" stroke-width="1.3"/>
<line x1="566.47" y1="462.51" x2="566.47" y2="467.01" stroke="#000" stroke-width="1.3"/>
<line x1="575.63" y1="462.51" x2="575.63" y2="467.01" stroke="#000" stroke-width="1.3"/>
<line x1="582.73" y1="462.51" x2="582.73" y2="467.01" stroke="#000" stroke-width="1.3"/>
<line x1="588.54" y1="462.51" x2="588.54" y2="467.01" stroke="#000" stroke-width="1.3"/>
<line x1="593.45" y1="462.51" x2="593.45" y2="467.01" stroke="#000" stroke-width="1.3"/>
<line x1="597.70" y1="462.51" x2="597.70" y2="467.01" stroke="#000" stroke-width="1.3"/>
<line x1="601.45" y1="462.51" x2="601.45" y2="467.01" stroke="#000" stroke-width="1.3"/>
<line x1="529.20" y1="392.30" x2="559.40" y2="392.30" stroke="#c04421" stroke-opacity="0.68" stroke-width="3"/>
<text x="568.70" y="396.70" font-size="14.8" text-anchor="start" font-weight="normal" fill="#111" stroke="#111" stroke-width="0.22" >UAA</text>
<line x1="529.20" y1="411.38" x2="559.40" y2="411.38" stroke="#5a7bab" stroke-opacity="0.68" stroke-width="3"/>
<text x="568.70" y="415.78" font-size="14.8" text-anchor="start" font-weight="normal" fill="#111" stroke="#111" stroke-width="0.22" >UAU</text>
<line x1="529.20" y1="430.46" x2="559.40" y2="430.46" stroke="#7bb665" stroke-opacity="0.68" stroke-width="3"/>
<text x="568.70" y="434.86" font-size="14.8" text-anchor="start" font-weight="normal" fill="#111" stroke="#111" stroke-width="0.22" >UAC</text>
<line x1="529.20" y1="449.54" x2="559.40" y2="449.54" stroke="#8e65a8" stroke-opacity="0.68" stroke-width="3"/>
<text x="568.70" y="453.94" font-size="14.8" text-anchor="start" font-weight="normal" fill="#111" stroke="#111" stroke-width="0.22" >UAG</text>
<clipPath id="c132508"><rect x="132.2" y="508.1" width="205.3" height="153.0"/></clipPath>
<g clip-path="url(#c132508)">
<path d="M132.20,623.62 H172.60 V618.51 H213.17 V609.34 H226.07 V594.29 H235.23 V572.87 H242.33 V566.50 H248.14 V562.41 H253.05 V557.83 H257.30 V552.22 H261.05 V547.12 H264.40 V542.27 H267.43 V539.91 H270.20 V537.74 H272.75 V535.73 H275.11 V533.82 H277.31 V532.04 H279.36 V530.40 H281.29 V529.06 H283.11 V527.79 H284.83 V526.58 H286.47 V525.44 H288.02 V524.47 H289.50 V523.55 H290.91 V522.67 H292.27 V521.82 H293.57 V521.01 H294.82 V520.36 H296.02 V519.76 H297.18 V519.19 H298.29 V518.64 H299.37 V518.10 H300.42 V517.62 H301.43 V517.19 H302.41 V516.79 H303.36 V516.39 H304.28 V516.00 H305.18 V515.63 H306.05 V515.26 H306.90 V514.90 H307.73 V514.56 H308.53 V514.22 H309.32 V513.98 H310.08 V513.75 H310.83 V513.53 H311.57 V513.31 H312.28 V513.09 H312.98 V512.88 H313.66 V512.67 H314.33 V512.47 H314.99 V512.27 H315.63 V512.08 H316.26 V511.89 H316.88 V511.70 H317.49 V511.52 H318.08 V511.34 H318.67 V511.16 H319.24 V511.06 H319.81 V510.95 H320.36 V510.85 H320.90 V510.76 H321.44 V510.66 H321.96 V510.56 H322.48 V510.47 H322.99 V510.38 H323.49 V510.29 H323.99 V510.20 H324.47 V510.11 H324.95 V510.02 H325.42 V509.94 H325.89 V509.86 H326.35 V509.77 H326.80 V509.69 H327.24 V509.61 H327.68 V509.53 H328.11 V509.45 H328.54 V509.38 H328.96 V509.32 H329.38 V509.26 H329.79 V509.20 H330.20 V509.14 H330.60 V509.09 H330.99 V509.03 H331.38 V508.98 H331.77 V508.93 H332.15 V508.87 H332.53 V508.82 H332.90 V508.77 H333.27 V508.72 H333.63 V508.67 H333.99 V508.62 H334.35 V508.57 H334.70 V508.52 H335.05 V508.47 H335.39 V508.42 H335.73 V508.37 H336.07 V508.33 H336.40 V508.28 H336.73 V508.24 H337.06 V508.19 H337.38 V508.14 H337.70 V508.10" fill="none" stroke="#8e65a8" stroke-opacity="0.68" stroke-width="3" stroke-linejoin="miter"/>
<path d="M132.20,612.39 H172.60 V607.04 H213.17 V599.39 H226.07 V586.64 H235.23 V566.50 H242.33 V560.88 H248.14 V556.81 H253.05 V552.98 H257.30 V548.90 H261.05 V543.80 H264.40 V539.72 H267.43 V537.46 H270.20 V535.39 H272.75 V533.43 H275.11 V531.53 H277.31 V529.75 H279.36 V528.11 H281.29 V526.84 H283.11 V525.63 H284.83 V524.49 H286.47 V523.40 H288.02 V522.43 H289.50 V521.51 H290.91 V520.63 H292.27 V519.78 H293.57 V518.97 H294.82 V518.36 H296.02 V517.81 H297.18 V517.29 H298.29 V516.78 H299.37 V516.29 H300.42 V515.86 H301.43 V515.49 H302.41 V515.14 H303.36 V514.80 H304.28 V514.47 H305.18 V514.15 H306.05 V513.84 H306.90 V513.53 H307.73 V513.23 H308.53 V512.95 H309.32 V512.75 H310.08 V512.55 H310.83 V512.37 H311.57 V512.18 H312.28 V512.00 H312.98 V511.83 H313.66 V511.65 H314.33 V511.49 H314.99 V511.32 H315.63 V511.16 H316.26 V511.00 H316.88 V510.84 H317.49 V510.69 H318.08 V510.54 H318.67 V510.40 H319.24 V510.31 H319.81 V510.22 H320.36 V510.13 H320.90 V510.05 H321.44 V509.97 H321.96 V509.88 H322.48 V509.80 H322.99 V509.73 H323.49 V509.65 H323.99 V509.57 H324.47 V509.50 H324.95 V509.42 H325.42 V509.35 H325.89 V509.28 H326.35 V509.21 H326.80 V509.14 H327.24 V509.07 H327.68 V509.00 H328.11 V508.93 H328.54 V508.87 H328.96 V508.83 H329.38 V508.80 H329.79 V508.76 H330.20 V508.73 H330.60 V508.69 H330.99 V508.66 H331.38 V508.63 H331.77 V508.60 H332.15 V508.56 H332.53 V508.53 H332.90 V508.50 H333.27 V508.47 H333.63 V508.44 H333.99 V508.41 H334.35 V508.38 H334.70 V508.35 H335.05 V508.32 H335.39 V508.29 H335.73 V508.26 H336.07 V508.24 H336.40 V508.21 H336.73 V508.18 H337.06 V508.15 H337.38 V508.13 H337.70 V508.10" fill="none" stroke="#7bb665" stroke-opacity="0.68" stroke-width="3" stroke-linejoin="miter"/>
<path d="M132.20,603.98 H172.60 V599.13 H213.17 V590.21 H226.07 V576.70 H235.23 V557.57 H242.33 V550.43 H248.14 V546.61 H253.05 V543.04 H257.30 V539.72 H261.05 V535.13 H264.40 V532.07 H267.43 V530.12 H270.20 V528.33 H272.75 V526.66 H275.11 V525.09 H277.31 V523.62 H279.36 V522.28 H281.29 V521.27 H283.11 V520.31 H284.83 V519.41 H286.47 V518.56 H288.02 V517.86 H289.50 V517.19 H290.91 V516.55 H292.27 V515.94 H293.57 V515.35 H294.82 V514.83 H296.02 V514.33 H297.18 V513.86 H298.29 V513.40 H299.37 V512.95 H300.42 V512.59 H301.43 V512.35 H302.41 V512.12 H303.36 V511.89 H304.28 V511.67 H305.18 V511.45 H306.05 V511.24 H306.90 V511.04 H307.73 V510.84 H308.53 V510.65 H309.32 V510.56 H310.08 V510.47 H310.83 V510.38 H311.57 V510.29 H312.28 V510.21 H312.98 V510.12 H313.66 V510.04 H314.33 V509.96 H314.99 V509.89 H315.63 V509.81 H316.26 V509.73 H316.88 V509.66 H317.49 V509.59 H318.08 V509.52 H318.67 V509.45 H319.24 V509.38 H319.81 V509.31 H320.36 V509.25 H320.90 V509.18 H321.44 V509.12 H321.96 V509.09 H322.48 V509.05 H322.99 V509.02 H323.49 V508.99 H323.99 V508.96 H324.47 V508.93 H324.95 V508.90 H325.42 V508.87 H325.89 V508.84 H326.35 V508.81 H326.80 V508.78 H327.24 V508.76 H327.68 V508.73 H328.11 V508.70 H328.54 V508.67 H328.96 V508.65 H329.38 V508.62 H329.79 V508.60 H330.20 V508.57 H330.60 V508.55 H330.99 V508.52 H331.38 V508.50 H331.77 V508.47 H332.15 V508.45 H332.53 V508.42 H332.90 V508.40 H333.27 V508.38 H333.63 V508.36 H333.99 V508.33 H334.35 V508.31 H334.70 V508.29 H335.05 V508.27 H335.39 V508.25 H335.73 V508.22 H336.07 V508.20 H336.40 V508.18 H336.73 V508.16 H337.06 V508.14 H337.38 V508.12 H337.70 V508.10" fill="none" stroke="#5a7bab" stroke-opacity="0.68" stroke-width="3" stroke-linejoin="miter"/>
<path d="M132.20,601.43 H172.60 V596.59 H213.17 V588.17 H226.07 V574.91 H235.23 V556.04 H242.33 V549.15 H248.14 V545.59 H253.05 V542.01 H257.30 V538.70 H261.05 V534.11 H264.40 V531.05 H267.43 V529.10 H270.20 V527.31 H272.75 V525.64 H275.11 V524.07 H277.31 V522.60 H279.36 V521.26 H281.29 V520.25 H283.11 V519.29 H284.83 V518.39 H286.47 V517.54 H288.02 V516.84 H289.50 V516.17 H290.91 V515.53 H292.27 V514.92 H293.57 V514.33 H294.82 V513.85 H296.02 V513.41 H297.18 V512.98 H298.29 V512.56 H299.37 V512.16 H300.42 V511.84 H301.43 V511.63 H302.41 V511.42 H303.36 V511.22 H304.28 V511.03 H305.18 V510.84 H306.05 V510.66 H306.90 V510.48 H307.73 V510.31 H308.53 V510.14 H309.32 V510.06 H310.08 V509.99 H310.83 V509.91 H311.57 V509.84 H312.28 V509.77 H312.98 V509.70 H313.66 V509.63 H314.33 V509.57 H314.99 V509.50 H315.63 V509.44 H316.26 V509.38 H316.88 V509.32 H317.49 V509.26 H318.08 V509.20 H318.67 V509.14 H319.24 V509.08 H319.81 V509.03 H320.36 V508.97 H320.90 V508.92 H321.44 V508.87 H321.96 V508.84 H322.48 V508.82 H322.99 V508.79 H323.49 V508.77 H323.99 V508.75 H324.47 V508.72 H324.95 V508.70 H325.42 V508.68 H325.89 V508.66 H326.35 V508.63 H326.80 V508.61 H327.24 V508.59 H327.68 V508.57 H328.11 V508.55 H328.54 V508.53 H328.96 V508.51 H329.38 V508.49 H329.79 V508.47 H330.20 V508.45 H330.60 V508.43 H330.99 V508.42 H331.38 V508.40 H331.77 V508.38 H332.15 V508.36 H332.53 V508.34 H332.90 V508.33 H333.27 V508.31 H333.63 V508.29 H333.99 V508.27 H334.35 V508.26 H334.70 V508.24 H335.05 V508.23 H335.39 V508.21 H335.73 V508.19 H336.07 V508.18 H336.40 V508.16 H336.73 V508.15 H337.06 V508.13 H337.38 V508.12 H337.70 V508.10" fill="none" stroke="#c04421" stroke-opacity="0.68" stroke-width="3" stroke-linejoin="miter"/>
</g>
<path d="M132.2,661.1 L132.2,508.1 L337.5,508.1 L337.5,668.6" fill="none" stroke="#000" stroke-width="1.9"/>
<line x1="124.99999999999999" y1="661.10" x2="337.5" y2="661.10" stroke="#000" stroke-width="1.9"/>
<line x1="124.99999999999999" y1="508.10" x2="132.2" y2="508.10" stroke="#000" stroke-width="1.8"/>
<text x="118.20" y="514.00" font-size="14.8" text-anchor="end" font-weight="normal" fill="#111" stroke="#111" stroke-width="0.22" >1.0</text>
<line x1="124.99999999999999" y1="559.10" x2="132.2" y2="559.10" stroke="#000" stroke-width="1.8"/>
<text x="118.20" y="565.00" font-size="14.8" text-anchor="end" font-weight="normal" fill="#111" stroke="#111" stroke-width="0.22" >0.8</text>
<line x1="124.99999999999999" y1="610.10" x2="132.2" y2="610.10" stroke="#000" stroke-width="1.8"/>
<text x="118.20" y="616.00" font-size="14.8" text-anchor="end" font-weight="normal" fill="#111" stroke="#111" stroke-width="0.22" >0.6</text>
<line x1="124.99999999999999" y1="661.10" x2="132.2" y2="661.10" stroke="#000" stroke-width="1.8"/>
<text x="118.20" y="667.00" font-size="14.8" text-anchor="end" font-weight="normal" fill="#111" stroke="#111" stroke-width="0.22" >0.4</text>
<line x1="132.2" y1="661.10" x2="132.2" y2="668.60" stroke="#000" stroke-width="1.8"/>
<line x1="140.28" y1="661.10" x2="140.28" y2="665.60" stroke="#000" stroke-width="1.3"/>
<line x1="144.32" y1="661.10" x2="144.32" y2="665.60" stroke="#000" stroke-width="1.3"/>
<line x1="148.36" y1="661.10" x2="148.36" y2="665.60" stroke="#000" stroke-width="1.3"/>
<line x1="152.40" y1="661.10" x2="152.40" y2="665.60" stroke="#000" stroke-width="1.3"/>
<line x1="156.44" y1="661.10" x2="156.44" y2="665.60" stroke="#000" stroke-width="1.3"/>
<line x1="160.48" y1="661.10" x2="160.48" y2="665.60" stroke="#000" stroke-width="1.3"/>
<line x1="164.52" y1="661.10" x2="164.52" y2="665.60" stroke="#000" stroke-width="1.3"/>
<line x1="168.56" y1="661.10" x2="168.56" y2="665.60" stroke="#000" stroke-width="1.3"/>
<line x1="172.60" y1="661.10" x2="172.60" y2="668.60" stroke="#000" stroke-width="1.8"/>
<line x1="264.40" y1="661.10" x2="264.40" y2="668.60" stroke="#000" stroke-width="1.8"/>
<line x1="337.70" y1="661.10" x2="337.70" y2="668.60" stroke="#000" stroke-width="1.8"/>
<line x1="213.17" y1="661.10" x2="213.17" y2="665.60" stroke="#000" stroke-width="1.3"/>
<line x1="226.07" y1="661.10" x2="226.07" y2="665.60" stroke="#000" stroke-width="1.3"/>
<line x1="235.23" y1="661.10" x2="235.23" y2="665.60" stroke="#000" stroke-width="1.3"/>
<line x1="242.33" y1="661.10" x2="242.33" y2="665.60" stroke="#000" stroke-width="1.3"/>
<line x1="248.14" y1="661.10" x2="248.14" y2="665.60" stroke="#000" stroke-width="1.3"/>
<line x1="253.05" y1="661.10" x2="253.05" y2="665.60" stroke="#000" stroke-width="1.3"/>
<line x1="257.30" y1="661.10" x2="257.30" y2="665.60" stroke="#000" stroke-width="1.3"/>
<line x1="261.05" y1="661.10" x2="261.05" y2="665.60" stroke="#000" stroke-width="1.3"/>
<line x1="286.47" y1="661.10" x2="286.47" y2="665.60" stroke="#000" stroke-width="1.3"/>
<line x1="299.37" y1="661.10" x2="299.37" y2="665.60" stroke="#000" stroke-width="1.3"/>
<line x1="308.53" y1="661.10" x2="308.53" y2="665.60" stroke="#000" stroke-width="1.3"/>
<line x1="315.63" y1="661.10" x2="315.63" y2="665.60" stroke="#000" stroke-width="1.3"/>
<line x1="321.44" y1="661.10" x2="321.44" y2="665.60" stroke="#000" stroke-width="1.3"/>
<line x1="326.35" y1="661.10" x2="326.35" y2="665.60" stroke="#000" stroke-width="1.3"/>
<line x1="330.60" y1="661.10" x2="330.60" y2="665.60" stroke="#000" stroke-width="1.3"/>
<line x1="334.35" y1="661.10" x2="334.35" y2="665.60" stroke="#000" stroke-width="1.3"/>
<text x="130.70" y="685.2" font-size="14.8" text-anchor="middle" font-weight="normal" fill="#111" stroke="#111" stroke-width="0.22" >0</text>
<text x="172.60" y="685.2" font-size="14.8" text-anchor="middle" font-weight="normal" fill="#111" stroke="#111" stroke-width="0.22" >1</text>
<text x="261.90" y="685.2" font-size="14.8" text-anchor="middle" font-weight="normal" fill="#111" stroke="#111" stroke-width="0.22" >10</text>
<text x="334.70" y="685.2" font-size="14.8" text-anchor="middle" font-weight="normal" fill="#111" stroke="#111" stroke-width="0.22" >100</text>
<line x1="262.10" y1="593.10" x2="292.30" y2="593.10" stroke="#c04421" stroke-opacity="0.68" stroke-width="3"/>
<text x="301.60" y="597.50" font-size="14.8" text-anchor="start" font-weight="normal" fill="#111" stroke="#111" stroke-width="0.22" >CAA</text>
<line x1="262.10" y1="612.18" x2="292.30" y2="612.18" stroke="#5a7bab" stroke-opacity="0.68" stroke-width="3"/>
<text x="301.60" y="616.58" font-size="14.8" text-anchor="start" font-weight="normal" fill="#111" stroke="#111" stroke-width="0.22" >CAU</text>
<line x1="262.10" y1="631.26" x2="292.30" y2="631.26" stroke="#7bb665" stroke-opacity="0.68" stroke-width="3"/>
<text x="301.60" y="635.66" font-size="14.8" text-anchor="start" font-weight="normal" fill="#111" stroke="#111" stroke-width="0.22" >CAC</text>
<line x1="262.10" y1="650.34" x2="292.30" y2="650.34" stroke="#8e65a8" stroke-opacity="0.68" stroke-width="3"/>
<text x="301.60" y="654.74" font-size="14.8" text-anchor="start" font-weight="normal" fill="#111" stroke="#111" stroke-width="0.22" >CAG</text>
<clipPath id="c399507"><rect x="399.3" y="507.8" width="205.3" height="152.68"/></clipPath>
<g clip-path="url(#c399507)">
<path d="M399.30,597.88 H439.70 V591.39 H480.27 V581.09 H493.17 V565.82 H502.33 V546.73 H509.43 V540.63 H515.24 V536.49 H520.15 V532.94 H524.40 V530.22 H528.15 V527.85 H531.50 V525.72 H534.53 V523.79 H537.30 V522.03 H539.85 V520.40 H542.21 V519.12 H544.41 V518.13 H546.46 V517.21 H548.39 V516.34 H550.21 V515.52 H551.93 V514.86 H553.57 V514.40 H555.12 V513.96 H556.60 V513.54 H558.01 V513.14 H559.37 V512.75 H560.67 V512.38 H561.92 V512.16 H563.12 V511.94 H564.28 V511.74 H565.39 V511.54 H566.47 V511.35 H567.52 V511.16 H568.53 V510.98 H569.51 V510.80 H570.46 V510.63 H571.38 V510.47 H572.28 V510.31 H573.15 V510.15 H574.00 V510.00 H574.83 V509.85 H575.63 V509.71 H576.42 V509.66 H577.18 V509.61 H577.93 V509.56 H578.67 V509.51 H579.38 V509.46 H580.08 V509.42 H580.76 V509.37 H581.43 V509.33 H582.09 V509.29 H582.73 V509.25 H583.36 V509.20 H583.98 V509.16 H584.59 V509.12 H585.18 V509.09 H585.77 V509.05 H586.34 V509.01 H586.91 V508.97 H587.46 V508.94 H588.00 V508.90 H588.54 V508.87 H589.06 V508.83 H589.58 V508.80 H590.09 V508.76 H590.59 V508.73 H591.09 V508.70 H591.57 V508.67 H592.05 V508.64 H592.52 V508.60 H592.99 V508.57 H593.45 V508.54 H593.90 V508.51 H594.34 V508.49 H594.78 V508.46 H595.21 V508.43 H595.64 V508.40 H596.06 V508.37 H596.48 V508.35 H596.89 V508.32 H597.30 V508.29 H597.70 V508.27 H598.09 V508.24 H598.48 V508.21 H598.87 V508.19 H599.25 V508.16 H599.63 V508.14 H600.00 V508.12 H600.37 V508.09 H600.73 V508.07 H601.09 V508.04 H601.45 V508.02 H601.80 V508.00 H602.15 V507.97 H602.49 V507.95 H602.83 V507.93 H603.17 V507.91 H603.50 V507.89 H603.83 V507.86 H604.16 V507.84 H604.48 V507.82 H604.80 V507.80" fill="none" stroke="#8e65a8" stroke-opacity="0.68" stroke-width="3" stroke-linejoin="miter"/>
<path d="M399.30,569.33 H439.70 V564.75 H480.27 V558.95 H493.17 V549.02 H502.33 V534.52 H509.43 V529.56 H515.24 V526.60 H520.15 V524.07 H524.40 V522.15 H528.15 V520.47 H531.50 V518.99 H534.53 V517.74 H537.30 V516.60 H539.85 V515.55 H542.21 V514.75 H544.41 V514.18 H546.46 V513.64 H548.39 V513.13 H550.21 V512.65 H551.93 V512.26 H553.57 V511.98 H555.12 V511.70 H556.60 V511.45 H558.01 V511.20 H559.37 V510.96 H560.67 V510.73 H561.92 V510.51 H563.12 V510.30 H564.28 V510.10 H565.39 V509.90 H566.47 V509.71 H567.52 V509.66 H568.53 V509.61 H569.51 V509.56 H570.46 V509.51 H571.38 V509.47 H572.28 V509.42 H573.15 V509.38 H574.00 V509.34 H574.83 V509.29 H575.63 V509.25 H576.42 V509.22 H577.18 V509.18 H577.93 V509.14 H578.67 V509.10 H579.38 V509.07 H580.08 V509.03 H580.76 V509.00 H581.43 V508.97 H582.09 V508.93 H582.73 V508.90 H583.36 V508.87 H583.98 V508.84 H584.59 V508.81 H585.18 V508.78 H585.77 V508.75 H586.34 V508.72 H586.91 V508.69 H587.46 V508.67 H588.00 V508.64 H588.54 V508.61 H589.06 V508.59 H589.58 V508.56 H590.09 V508.53 H590.59 V508.51 H591.09 V508.49 H591.57 V508.46 H592.05 V508.44 H592.52 V508.41 H592.99 V508.39 H593.45 V508.37 H593.90 V508.34 H594.34 V508.32 H594.78 V508.30 H595.21 V508.28 H595.64 V508.26 H596.06 V508.24 H596.48 V508.22 H596.89 V508.20 H597.30 V508.18 H597.70 V508.16 H598.09 V508.14 H598.48 V508.12 H598.87 V508.10 H599.25 V508.08 H599.63 V508.06 H600.00 V508.04 H600.37 V508.02 H600.73 V508.00 H601.09 V507.99 H601.45 V507.97 H601.80 V507.95 H602.15 V507.93 H602.49 V507.92 H602.83 V507.90 H603.17 V507.88 H603.50 V507.87 H603.83 V507.85 H604.16 V507.83 H604.48 V507.82 H604.80 V507.80" fill="none" stroke="#7bb665" stroke-opacity="0.68" stroke-width="3" stroke-linejoin="miter"/>
<path d="M399.30,569.18 H439.70 V564.60 H480.27 V557.42 H493.17 V546.35 H502.33 V530.32 H509.43 V526.88 H515.24 V524.32 H520.15 V522.13 H524.40 V520.24 H528.15 V518.56 H531.50 V517.10 H534.53 V515.97 H537.30 V514.93 H539.85 V513.98 H542.21 V513.27 H544.41 V512.78 H546.46 V512.31 H548.39 V511.88 H550.21 V511.47 H551.93 V511.15 H553.57 V510.95 H555.12 V510.75 H556.60 V510.57 H558.01 V510.39 H559.37 V510.22 H560.67 V510.06 H561.92 V509.90 H563.12 V509.75 H564.28 V509.60 H565.39 V509.46 H566.47 V509.33 H567.52 V509.29 H568.53 V509.25 H569.51 V509.21 H570.46 V509.17 H571.38 V509.13 H572.28 V509.10 H573.15 V509.06 H574.00 V509.03 H574.83 V509.00 H575.63 V508.96 H576.42 V508.93 H577.18 V508.90 H577.93 V508.87 H578.67 V508.84 H579.38 V508.81 H580.08 V508.79 H580.76 V508.76 H581.43 V508.73 H582.09 V508.71 H582.73 V508.68 H583.36 V508.66 H583.98 V508.63 H584.59 V508.61 H585.18 V508.58 H585.77 V508.56 H586.34 V508.54 H586.91 V508.51 H587.46 V508.49 H588.00 V508.47 H588.54 V508.45 H589.06 V508.43 H589.58 V508.41 H590.09 V508.39 H590.59 V508.37 H591.09 V508.35 H591.57 V508.33 H592.05 V508.31 H592.52 V508.29 H592.99 V508.27 H593.45 V508.25 H593.90 V508.24 H594.34 V508.22 H594.78 V508.20 H595.21 V508.18 H595.64 V508.17 H596.06 V508.15 H596.48 V508.13 H596.89 V508.12 H597.30 V508.10 H597.70 V508.08 H598.09 V508.07 H598.48 V508.05 H598.87 V508.04 H599.25 V508.02 H599.63 V508.01 H600.00 V507.99 H600.37 V507.98 H600.73 V507.96 H601.09 V507.95 H601.45 V507.93 H601.80 V507.92 H602.15 V507.91 H602.49 V507.89 H602.83 V507.88 H603.17 V507.87 H603.50 V507.85 H603.83 V507.84 H604.16 V507.83 H604.48 V507.81 H604.80 V507.80" fill="none" stroke="#5a7bab" stroke-opacity="0.68" stroke-width="3" stroke-linejoin="miter"/>
<path d="M399.30,584.52 H439.70 V578.80 H480.27 V569.64 H493.17 V557.42 H502.33 V540.24 H509.43 V534.14 H515.24 V530.98 H520.15 V528.28 H524.40 V525.92 H528.15 V523.83 H531.50 V521.99 H534.53 V520.52 H537.30 V519.17 H539.85 V517.93 H542.21 V516.91 H544.41 V516.09 H546.46 V515.32 H548.39 V514.60 H550.21 V513.92 H551.93 V513.39 H553.57 V513.06 H555.12 V512.74 H556.60 V512.44 H558.01 V512.16 H559.37 V511.88 H560.67 V511.62 H561.92 V511.43 H563.12 V511.24 H564.28 V511.07 H565.39 V510.90 H566.47 V510.73 H567.52 V510.57 H568.53 V510.42 H569.51 V510.27 H570.46 V510.12 H571.38 V509.98 H572.28 V509.84 H573.15 V509.71 H574.00 V509.58 H574.83 V509.45 H575.63 V509.33 H576.42 V509.29 H577.18 V509.25 H577.93 V509.21 H578.67 V509.17 H579.38 V509.13 H580.08 V509.09 H580.76 V509.06 H581.43 V509.02 H582.09 V508.99 H582.73 V508.96 H583.36 V508.92 H583.98 V508.89 H584.59 V508.86 H585.18 V508.83 H585.77 V508.80 H586.34 V508.77 H586.91 V508.74 H587.46 V508.71 H588.00 V508.68 H588.54 V508.65 H589.06 V508.63 H589.58 V508.60 H590.09 V508.57 H590.59 V508.55 H591.09 V508.52 H591.57 V508.49 H592.05 V508.47 H592.52 V508.44 H592.99 V508.42 H593.45 V508.40 H593.90 V508.37 H594.34 V508.35 H594.78 V508.33 H595.21 V508.30 H595.64 V508.28 H596.06 V508.26 H596.48 V508.24 H596.89 V508.22 H597.30 V508.19 H597.70 V508.17 H598.09 V508.15 H598.48 V508.13 H598.87 V508.11 H599.25 V508.09 H599.63 V508.07 H600.00 V508.05 H600.37 V508.03 H600.73 V508.01 H601.09 V507.99 H601.45 V507.98 H601.80 V507.96 H602.15 V507.94 H602.49 V507.92 H602.83 V507.90 H603.17 V507.89 H603.50 V507.87 H603.83 V507.85 H604.16 V507.83 H604.48 V507.82 H604.80 V507.80" fill="none" stroke="#c04421" stroke-opacity="0.68" stroke-width="3" stroke-linejoin="miter"/>
</g>
<path d="M399.3,660.48 L399.3,507.8 L604.6,507.8 L604.6,667.98" fill="none" stroke="#000" stroke-width="1.9"/>
<line x1="392.1" y1="660.48" x2="604.6" y2="660.48" stroke="#000" stroke-width="1.9"/>
<line x1="392.1" y1="507.80" x2="399.3" y2="507.80" stroke="#000" stroke-width="1.8"/>
<text x="385.30" y="513.70" font-size="14.8" text-anchor="end" font-weight="normal" fill="#111" stroke="#111" stroke-width="0.22" >1.0</text>
<line x1="392.1" y1="584.14" x2="399.3" y2="584.14" stroke="#000" stroke-width="1.8"/>
<text x="385.30" y="590.04" font-size="14.8" text-anchor="end" font-weight="normal" fill="#111" stroke="#111" stroke-width="0.22" >0.8</text>
<line x1="392.1" y1="660.48" x2="399.3" y2="660.48" stroke="#000" stroke-width="1.8"/>
<text x="385.30" y="666.38" font-size="14.8" text-anchor="end" font-weight="normal" fill="#111" stroke="#111" stroke-width="0.22" >0.6</text>
<line x1="399.3" y1="660.48" x2="399.3" y2="667.98" stroke="#000" stroke-width="1.8"/>
<line x1="407.38" y1="660.48" x2="407.38" y2="664.98" stroke="#000" stroke-width="1.3"/>
<line x1="411.42" y1="660.48" x2="411.42" y2="664.98" stroke="#000" stroke-width="1.3"/>
<line x1="415.46" y1="660.48" x2="415.46" y2="664.98" stroke="#000" stroke-width="1.3"/>
<line x1="419.50" y1="660.48" x2="419.50" y2="664.98" stroke="#000" stroke-width="1.3"/>
<line x1="423.54" y1="660.48" x2="423.54" y2="664.98" stroke="#000" stroke-width="1.3"/>
<line x1="427.58" y1="660.48" x2="427.58" y2="664.98" stroke="#000" stroke-width="1.3"/>
<line x1="431.62" y1="660.48" x2="431.62" y2="664.98" stroke="#000" stroke-width="1.3"/>
<line x1="435.66" y1="660.48" x2="435.66" y2="664.98" stroke="#000" stroke-width="1.3"/>
<line x1="439.70" y1="660.48" x2="439.70" y2="667.98" stroke="#000" stroke-width="1.8"/>
<line x1="531.50" y1="660.48" x2="531.50" y2="667.98" stroke="#000" stroke-width="1.8"/>
<line x1="604.80" y1="660.48" x2="604.80" y2="667.98" stroke="#000" stroke-width="1.8"/>
<line x1="480.27" y1="660.48" x2="480.27" y2="664.98" stroke="#000" stroke-width="1.3"/>
<line x1="493.17" y1="660.48" x2="493.17" y2="664.98" stroke="#000" stroke-width="1.3"/>
<line x1="502.33" y1="660.48" x2="502.33" y2="664.98" stroke="#000" stroke-width="1.3"/>
<line x1="509.43" y1="660.48" x2="509.43" y2="664.98" stroke="#000" stroke-width="1.3"/>
<line x1="515.24" y1="660.48" x2="515.24" y2="664.98" stroke="#000" stroke-width="1.3"/>
<line x1="520.15" y1="660.48" x2="520.15" y2="664.98" stroke="#000" stroke-width="1.3"/>
<line x1="524.40" y1="660.48" x2="524.40" y2="664.98" stroke="#000" stroke-width="1.3"/>
<line x1="528.15" y1="660.48" x2="528.15" y2="664.98" stroke="#000" stroke-width="1.3"/>
<line x1="553.57" y1="660.48" x2="553.57" y2="664.98" stroke="#000" stroke-width="1.3"/>
<line x1="566.47" y1="660.48" x2="566.47" y2="664.98" stroke="#000" stroke-width="1.3"/>
<line x1="575.63" y1="660.48" x2="575.63" y2="664.98" stroke="#000" stroke-width="1.3"/>
<line x1="582.73" y1="660.48" x2="582.73" y2="664.98" stroke="#000" stroke-width="1.3"/>
<line x1="588.54" y1="660.48" x2="588.54" y2="664.98" stroke="#000" stroke-width="1.3"/>
<line x1="593.45" y1="660.48" x2="593.45" y2="664.98" stroke="#000" stroke-width="1.3"/>
<line x1="597.70" y1="660.48" x2="597.70" y2="664.98" stroke="#000" stroke-width="1.3"/>
<line x1="601.45" y1="660.48" x2="601.45" y2="664.98" stroke="#000" stroke-width="1.3"/>
<text x="397.80" y="685.2" font-size="14.8" text-anchor="middle" font-weight="normal" fill="#111" stroke="#111" stroke-width="0.22" >0</text>
<text x="439.70" y="685.2" font-size="14.8" text-anchor="middle" font-weight="normal" fill="#111" stroke="#111" stroke-width="0.22" >1</text>
<text x="529.00" y="685.2" font-size="14.8" text-anchor="middle" font-weight="normal" fill="#111" stroke="#111" stroke-width="0.22" >10</text>
<text x="601.80" y="685.2" font-size="14.8" text-anchor="middle" font-weight="normal" fill="#111" stroke="#111" stroke-width="0.22" >100</text>
<line x1="529.20" y1="593.70" x2="559.40" y2="593.70" stroke="#c04421" stroke-opacity="0.68" stroke-width="3"/>
<text x="568.70" y="598.10" font-size="14.8" text-anchor="start" font-weight="normal" fill="#111" stroke="#111" stroke-width="0.22" >GAA</text>
<line x1="529.20" y1="612.78" x2="559.40" y2="612.78" stroke="#5a7bab" stroke-opacity="0.68" stroke-width="3"/>
<text x="568.70" y="617.18" font-size="14.8" text-anchor="start" font-weight="normal" fill="#111" stroke="#111" stroke-width="0.22" >GAU</text>
<line x1="529.20" y1="631.86" x2="559.40" y2="631.86" stroke="#7bb665" stroke-opacity="0.68" stroke-width="3"/>
<text x="568.70" y="636.26" font-size="14.8" text-anchor="start" font-weight="normal" fill="#111" stroke="#111" stroke-width="0.22" >GAC</text>
<line x1="529.20" y1="650.94" x2="559.40" y2="650.94" stroke="#8e65a8" stroke-opacity="0.68" stroke-width="3"/>
<text x="568.70" y="655.34" font-size="14.8" text-anchor="start" font-weight="normal" fill="#111" stroke="#111" stroke-width="0.22" >GAG</text>
<text x="361.0" y="719.6" font-size="14.8" text-anchor="middle" font-weight="normal" fill="#111" stroke="#111" stroke-width="0.22" >Editing (%)</text>
<text x="0" y="0" font-size="14.8" text-anchor="middle" font-weight="normal" fill="#111" stroke="#111" stroke-width="0.22" transform="translate(80.9,486.3) rotate(-90)">Cumulative probability</text>
</svg>
</body></html>
